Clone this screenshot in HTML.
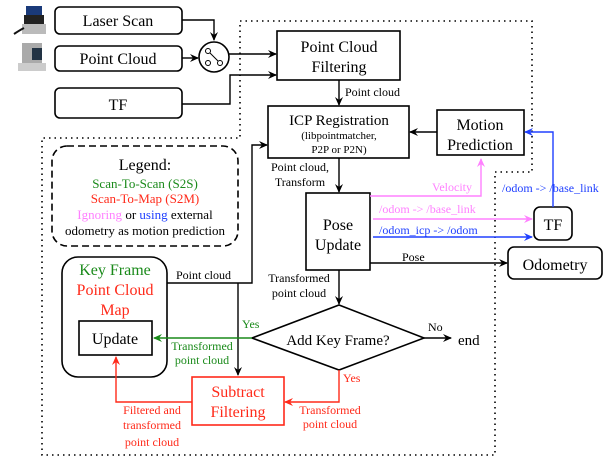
<!DOCTYPE html>
<html><head><meta charset="utf-8"><style>
html,body{margin:0;padding:0;background:#fff;}
svg, svg text{font-family:"Liberation Serif","DejaVu Serif",serif;}
</style></head><body>
<svg width="615" height="467" viewBox="0 0 615 467" xmlns="http://www.w3.org/2000/svg" font-family="Liberation Serif, DejaVu Serif, serif">
<defs>
<marker id="ak" markerWidth="10" markerHeight="10" refX="8" refY="5" orient="auto" markerUnits="userSpaceOnUse"><path d="M0,1 L9,5 L0,9 L3,5 z" fill="#000"/></marker>
<marker id="ag" markerWidth="10" markerHeight="10" refX="8" refY="5" orient="auto" markerUnits="userSpaceOnUse"><path d="M0,1 L9,5 L0,9 L3,5 z" fill="#1a8a1a"/></marker>
<marker id="ar" markerWidth="10" markerHeight="10" refX="8" refY="5" orient="auto" markerUnits="userSpaceOnUse"><path d="M0,1 L9,5 L0,9 L3,5 z" fill="#ff2a1a"/></marker>
<marker id="am" markerWidth="10" markerHeight="10" refX="8" refY="5" orient="auto" markerUnits="userSpaceOnUse"><path d="M0,1 L9,5 L0,9 L3,5 z" fill="#ff80ff"/></marker>
<marker id="ab" markerWidth="10" markerHeight="10" refX="8" refY="5" orient="auto" markerUnits="userSpaceOnUse"><path d="M0,1 L9,5 L0,9 L3,5 z" fill="#2040ff"/></marker>
</defs>

<path d="M240,21 H532 V172 H495 V455 H42 V138 H240 Z" fill="none" stroke="#000" stroke-width="1.6" stroke-dasharray="1.5,4"/>

<rect x="26" y="6" width="16" height="10" fill="#1a3a7a"/>
<rect x="24" y="15" width="20" height="10" fill="#222"/>
<rect x="22" y="24" width="24" height="10" fill="#bbb"/>
<path d="M14,34 Q20,30 24,28" stroke="#111" stroke-width="2" fill="none"/>
<rect x="22" y="43" width="20" height="22" fill="#aaa"/>
<rect x="32" y="48" width="10" height="12" fill="#234"/>
<rect x="18" y="63" width="28" height="8" fill="#ccc"/>

<g fill="none" stroke="#000" stroke-width="1.6">
<rect x="55" y="7" width="127" height="27" rx="5"/>
<rect x="55" y="46" width="127" height="25" rx="5"/>
<rect x="55" y="88" width="127" height="30" rx="5"/>
<circle cx="214" cy="57" r="15"/>
<rect x="277" y="31" width="123" height="49"/>
<rect x="268" y="106" width="141" height="52"/>
<rect x="437" y="110" width="87" height="45"/>
<rect x="306" y="193" width="64" height="77"/>
<rect x="534" y="207" width="38" height="33" rx="6"/>
<rect x="508" y="247" width="94" height="32" rx="6"/>
<rect x="62" y="257" width="105" height="120" rx="16"/>
<rect x="79" y="321" width="73" height="34"/>
<path d="M252,338 L339,305 L424,338 L339,370 Z"/>
</g>
<rect x="52" y="146" width="186" height="100" rx="15" fill="none" stroke="#000" stroke-width="1.6" stroke-dasharray="7,4"/>
<rect x="192" y="377" width="92" height="48" fill="none" stroke="#ff2a1a" stroke-width="1.6"/>
<circle cx="208" cy="51" r="2.5" fill="none" stroke="#000"/><circle cx="220" cy="63" r="2.5" fill="none" stroke="#000"/><circle cx="208" cy="63" r="2.5" fill="none" stroke="#000"/>
<line x1="210" y1="53" x2="218" y2="61" stroke="#000"/>

<g fill="none" stroke="#000" stroke-width="1.4">
<path d="M182,20 H214 V40" marker-end="url(#ak)"/>
<path d="M182,58 H198" marker-end="url(#ak)"/>
<path d="M229,54 H276" marker-end="url(#ak)"/>
<path d="M182,104 H230 V75 H276" marker-end="url(#ak)"/>
<path d="M339,80 V105" marker-end="url(#ak)"/>
<path d="M437,132 H410" marker-end="url(#ak)"/>
<path d="M339,158 V192" marker-end="url(#ak)"/>
<path d="M370,263 H507" marker-end="url(#ak)"/>
<path d="M339,270 V304" marker-end="url(#ak)"/>
<path d="M424,338 H451" marker-end="url(#ak)"/>
<path d="M167,283 H252 V145 H267" marker-end="url(#ak)"/>
<path d="M238,283 V375" marker-end="url(#ak)"/>
</g>
<path d="M252,338 H154" fill="none" stroke="#1a8a1a" stroke-width="1.4" marker-end="url(#ag)"/>
<path d="M339,370 V402 H285" fill="none" stroke="#ff2a1a" stroke-width="1.4" marker-end="url(#ar)"/>
<path d="M192,402 H116 V357" fill="none" stroke="#ff2a1a" stroke-width="1.4" marker-end="url(#ar)"/>
<path d="M370,196 H481 V159" fill="none" stroke="#ff80ff" stroke-width="1.4" marker-end="url(#am)"/>
<path d="M373,219 H532" fill="none" stroke="#ff80ff" stroke-width="1.4" marker-end="url(#am)"/>
<path d="M373,237 H532" fill="none" stroke="#2040ff" stroke-width="1.4" marker-end="url(#ab)"/>
<path d="M553,207 V132 H525" fill="none" stroke="#2040ff" stroke-width="1.4" marker-end="url(#ab)"/>

<g font-size="16" text-anchor="middle" fill="#000" font-family="Liberation Serif, DejaVu Serif, serif">
<text x="118" y="26">Laser Scan</text>
<text x="118" y="64">Point Cloud</text>
<text x="118" y="110">TF</text>
<text x="339" y="52">Point Cloud</text>
<text x="339" y="72">Filtering</text>
<text x="339" y="125" font-size="15">ICP Registration</text>
<text x="339" y="139" font-size="11">(libpointmatcher,</text>
<text x="339" y="153" font-size="11">P2P or P2N)</text>
<text x="480" y="130">Motion</text>
<text x="480" y="150">Prediction</text>
<text x="338" y="230">Pose</text>
<text x="338" y="250">Update</text>
<text x="553" y="230">TF</text>
<text x="555" y="270">Odometry</text>
<text x="115" y="344">Update</text>
<text x="338" y="345" font-size="15">Add Key Frame?</text>
<text x="145" y="170">Legend:</text>
<text x="145" y="188" font-size="13" fill="#1a8a1a">Scan-To-Scan (S2S)</text>
<text x="145" y="203" font-size="13" fill="#ff2a1a">Scan-To-Map (S2M)</text>
<text x="145" y="219" font-size="13"><tspan fill="#ff80ff">Ignoring</tspan> or <tspan fill="#2040ff">using</tspan> external</text>
<text x="145" y="235" font-size="13">odometry as motion prediction</text>
<text x="115" y="275" fill="#1a8a1a">Key Frame</text>
<text x="115" y="295" fill="#ff2a1a">Point Cloud</text>
<text x="115" y="315" fill="#ff2a1a">Map</text>
<text x="238" y="397" fill="#ff2a1a">Subtract</text>
<text x="238" y="417" fill="#ff2a1a">Filtering</text>
</g>
<g font-size="12" fill="#000" font-family="Liberation Serif, DejaVu Serif, serif">
<text x="345" y="96">Point cloud</text>
<text x="300" y="171" text-anchor="middle">Point cloud,</text>
<text x="300" y="186" text-anchor="middle">Transform</text>
<text x="402" y="261">Pose</text>
<text x="299" y="282" text-anchor="middle">Transformed</text>
<text x="299" y="297" text-anchor="middle">point cloud</text>
<text x="176" y="279">Point cloud</text>
<text x="428" y="331">No</text>
<text x="458" y="345" font-size="15">end</text>
<text x="242" y="328" fill="#1a8a1a">Yes</text>
<text x="202" y="350" fill="#1a8a1a" text-anchor="middle">Transformed</text>
<text x="202" y="364" fill="#1a8a1a" text-anchor="middle">point cloud</text>
<text x="343" y="382" fill="#ff2a1a">Yes</text>
<text x="330" y="414" fill="#ff2a1a" text-anchor="middle">Transformed</text>
<text x="330" y="428" fill="#ff2a1a" text-anchor="middle">point cloud</text>
<text x="152" y="414" fill="#ff2a1a" text-anchor="middle">Filtered and</text>
<text x="152" y="429" fill="#ff2a1a" text-anchor="middle">transformed</text>
<text x="152" y="446" fill="#ff2a1a" text-anchor="middle">point cloud</text>
<text x="432" y="191" fill="#ff80ff">Velocity</text>
<text x="379" y="213" fill="#ff80ff">/odom -&gt; /base_link</text>
<text x="379" y="234" fill="#2040ff">/odom_icp -&gt; /odom</text>
<text x="502" y="192" fill="#2040ff">/odom -&gt; /base_link</text>
</g>
</svg>
</body></html>
